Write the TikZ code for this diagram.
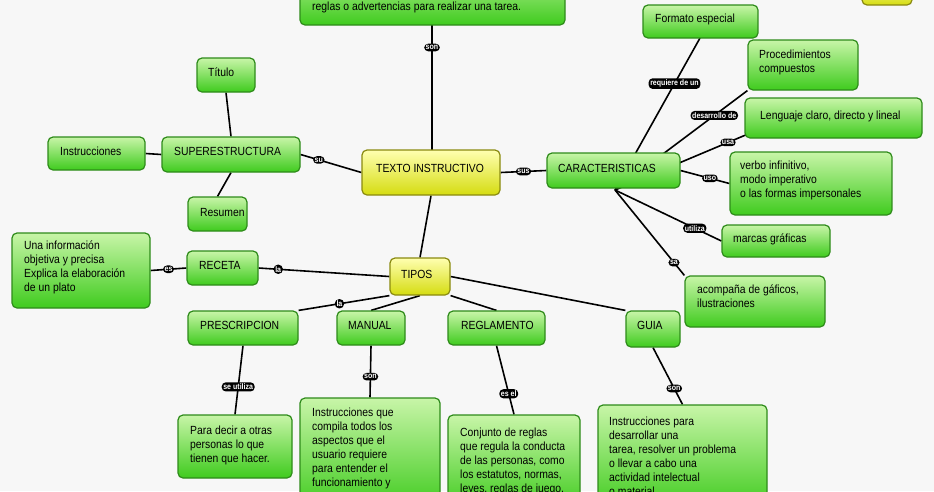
\documentclass[tikz,border=0pt]{standalone}
\usepackage{fontspec}
\setmainfont{Liberation Sans}[FakeStretch=0.88]
\pgfdeclarelayer{bgzero}
\pgfdeclarelayer{background}
\pgfsetlayers{bgzero,background,main}
\begin{document}
\definecolor{gtop}{HTML}{C8F5A8}
\definecolor{gbot}{HTML}{3FCB1E}
\definecolor{gbrd}{HTML}{2E8B1A}
\definecolor{ytop}{HTML}{FFFFB0}
\definecolor{ybot}{HTML}{D5DC10}
\definecolor{ybrd}{HTML}{8A8A10}
\begin{tikzpicture}[x=1pt,y=-1pt,
  box/.style={draw=gbrd,line width=1.2pt,rounded corners=5pt,top color=gtop,bottom color=gbot,inner sep=0pt},
  ybox/.style={box,draw=ybrd,top color=ytop,bottom color=ybot},
  lbl/.style={fill=black,text=white,rounded corners=4pt,inner sep=1.6pt,font=\bfseries\fontsize{8}{9}\selectfont},
  ln/.style={line width=1.6pt},
  t/.style={font=\fontsize{11.8}{14}\selectfont,align=left,anchor=north west,inner sep=0pt}]
\useasboundingbox (0,0) rectangle (934,491);
\clip (0,0) rectangle (934,491);
\begin{pgfonlayer}{bgzero}
\fill[white!97!black] (0,0) rectangle (934,491);
\end{pgfonlayer}
\newcommand\bx[6]{\node[#1,minimum width=#4-#2,minimum height=#5-#3] (#6) at ({(#2+#4)/2},{(#3+#5)/2}) {};}
% boxes
\bx{box}{300}{-40}{565}{25}{top}
\bx{ybox}{862}{-20}{912}{5}{ytr}
\bx{box}{643}{5}{758}{38}{fmt}
\bx{box}{748}{40}{858}{90}{proc}
\bx{box}{745}{98}{922}{138}{leng}
\bx{box}{730}{152}{892}{215}{verb}
\bx{box}{722}{225}{830}{257}{marc}
\bx{box}{685}{276}{825}{327}{acom}
\bx{box}{547}{153}{680}{188}{car}
\bx{ybox}{362}{150}{500}{195}{ti}
\bx{box}{162}{137}{300}{172}{sup}
\bx{box}{197}{58}{255}{92}{tit}
\bx{box}{48}{137}{145}{170}{ins}
\bx{box}{188}{197}{247}{231}{res}
\bx{box}{187}{251}{258}{285}{rec}
\bx{box}{12}{233}{150}{308}{info}
\bx{ybox}{390}{258}{450}{295}{tip}
\bx{box}{188}{311}{298}{345}{pre}
\bx{box}{337}{311}{405}{345}{man}
\bx{box}{448}{311}{545}{345}{reg}
\bx{box}{626}{311}{680}{347}{gui}
\bx{box}{178}{415}{292}{478}{pd}
\bx{box}{300}{398}{440}{510}{md}
\bx{box}{448}{415}{580}{510}{rd}
\bx{box}{598}{405}{767}{510}{gd}
% texts
\node[t] (t1) at (312,2) {reglas o advertencias para realizar una tarea.};
\node[t] (t2) at (655,14) {Formato especial};
\node[t] (t3) at (759,50) {Procedimientos\\compuestos};
\node[t] (t4) at (760,111) {Lenguaje claro, directo y lineal};
\node[t] (t5) at (740,161) {verbo infinitivo,\\modo imperativo\\o las formas impersonales};
\node[t] (t6) at (733,234) {marcas gráficas};
\node[t] (t7) at (697,285) {acompaña de gáficos,\\ilustraciones};
\node[t] (t8) at (558,164) {CARACTERISTICAS};
\node[t] (t9) at (376,164) {TEXTO INSTRUCTIVO};
\node[t] (t10) at (174,147) {SUPERESTRUCTURA};
\node[t] (t11) at (208,68) {Título};
\node[t] (t12) at (60,147) {Instrucciones};
\node[t] (t13) at (200,208) {Resumen};
\node[t] (t14) at (199,261) {RECETA};
\node[t] (t15) at (24,241) {Una información\\objetiva y precisa\\Explica la elaboración\\ de un plato};
\node[t] (t16) at (401,270) {TIPOS};
\node[t] (t17) at (200,321) {PRESCRIPCION};
\node[t] (t18) at (348,321) {MANUAL};
\node[t] (t19) at (461,321) {REGLAMENTO};
\node[t] (t20) at (637,321) {GUIA};
\node[t] (t21) at (190,426) {Para decir a otras\\personas lo que\\tienen que hacer.};
\node[t] (t22) at (312,408) {Instrucciones que\\compila todos los\\aspectos que el\\usuario requiere\\para entender el\\funcionamiento y};
\node[t] (t23) at (460,428) {Conjunto de reglas\\que regula la conducta\\de las personas, como\\los estatutos, normas,\\leyes, reglas de juego,};
\node[t] (t24) at (609,417) {Instrucciones para\\desarrollar una\\tarea, resolver un problema\\o llevar a cabo una\\actividad intelectual\\o material};
% connectors (behind boxes)
\begin{pgfonlayer}{background}
\coordinate (hub) at (615,190);
\coordinate (tb) at (432,25);
\coordinate (tt) at (432,150);
\coordinate (fb) at (700,38);
\coordinate (lb) at (748,134);
\draw[ln] (tb) -- node[lbl,pos=0.18]{son} (tt);
\draw[ln] (ti.west) -- node[lbl,pos=0.7]{su} (sup.east);
\draw[ln] (ti.east) -- node[lbl,pos=0.5]{sus} (car.west);
\draw[ln] (ti.south) -- (tip.north);
\draw[ln] (sup.north) -- (tit.south);
\draw[ln] (sup.west) -- (ins.east);
\draw[ln] (sup.south) -- (res.north);
\draw[ln] (fb) -- node[lbl,pos=0.3]{requiere de un} (hub);
\draw[ln] (hub) -- node[lbl,pos=0.75]{desarrollo de} (proc.south west);
\draw[ln] (hub) -- node[lbl,pos=0.85]{usa} (lb);
\draw[ln] (car.east) -- node[lbl,pos=0.6]{uso} (verb.west);
\draw[ln] (hub) -- node[lbl,pos=0.75]{utiliza} (marc.west);
\draw[ln] (hub) -- node[lbl,pos=0.85]{sa} (acom.north west);
\draw[ln] (tip.west) -- node[lbl,pos=0.85]{la} (rec.east);
\draw[ln] (rec.west) -- node[lbl,pos=0.5]{es} (info.east);
\draw[ln] (tip.south west) -- node[lbl,pos=0.55]{la} (pre.north east);
\draw[ln] (tip.south) -- (man.north);
\draw[ln] (tip.south east) -- (reg.north);
\draw[ln] (tip.east) -- (gui.north west);
\draw[ln] (pre.south) -- node[lbl,pos=0.6]{se utiliza} (pd.north);
\draw[ln] (man.south) -- node[lbl,pos=0.6]{son} (md.north);
\draw[ln] (reg.south) -- node[lbl,pos=0.7]{es el} (rd.north);
\draw[ln] (gui.south) -- node[lbl,pos=0.72]{son} (gd.north);
\end{pgfonlayer}
\end{tikzpicture}
\end{document}
